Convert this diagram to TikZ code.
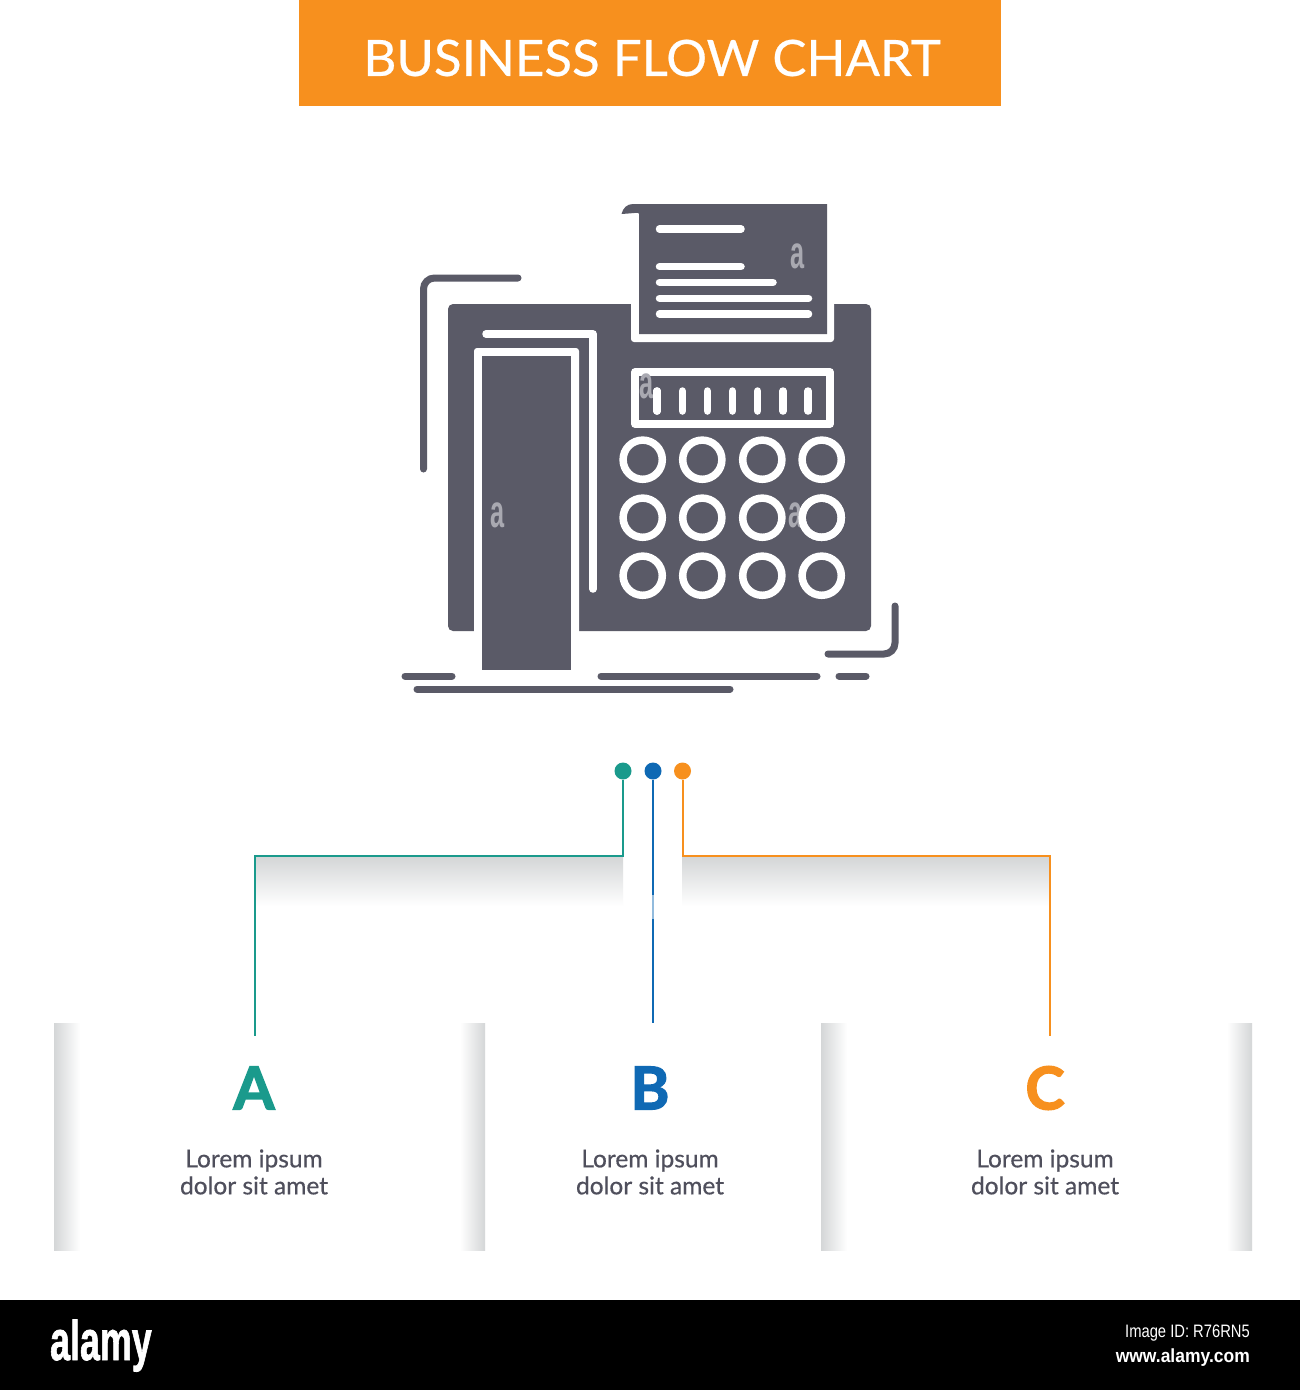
\documentclass[tikz,border=0pt]{standalone}
\usepackage{fontspec}
\setmainfont{Lato}
\newfontfamily\logofont{Liberation Sans}
\newfontfamily\logoheavy[BoldFeatures={FakeBold=1.5}]{Liberation Sans}
\newfontfamily\heavyfont[BoldFeatures={FakeBold=2.5}]{Lato}
\newfontfamily\midfont[FakeBold=0.5]{Lato}
\definecolor{bannerorange}{HTML}{F7901E}
\definecolor{iconslate}{HTML}{5A5A67}
\definecolor{textslate}{HTML}{4F4F5C}
\definecolor{tealc}{HTML}{1A9A8C}
\definecolor{bluec}{HTML}{0F69B4}
\definecolor{shadegrey}{HTML}{D4D6D7}
\definecolor{markgrey}{HTML}{A9A9B1}
\tikzset{
  x=1pt,y=-1pt,
  iconline/.style={draw=iconslate,line width=7pt,line cap=round,rounded corners=11pt},
  whiteline/.style={draw=white,line width=7.5pt,line cap=round,line join=round},
  wire/.style={line width=2pt,line cap=butt,line join=miter},
  dotnode/.style={circle,inner sep=0pt,minimum size=17pt},
  letternode/.style={font=\heavyfont\bfseries\fontsize{59}{60}\selectfont,inner sep=0pt},
  bodytext/.style={font=\midfont\fontsize{24.5}{27}\selectfont,text=textslate,align=center,inner sep=0pt},
  markfont/.style={font=\logofont\bfseries\fontsize{46}{48}\selectfont,text=markgrey,xscale=0.55,inner sep=0pt},
}
\begin{document}
\begin{tikzpicture}
\useasboundingbox (0,0) rectangle (1300,1390);
\fill[white] (0,0) rectangle (1300,1390);
% banner
\fill[bannerorange] (299,0) rectangle (1001,106);
\node[inner sep=0pt,text=white,font=\midfont\fontsize{50}{52}\selectfont,xscale=1.02] (title) at (652,58) {BUSINESS FLOW CHART};
% fax body
\fill[iconslate,rounded corners=5pt] (448,304) rectangle (871,631);
\fill[white,rounded corners=3pt] (631,290) rectangle (834,342);
\fill[white] (625,290) rectangle (840,304);
% paper
\fill[iconslate] (639,334) -- (639,214) .. controls (639,212) and (637,213) .. (621.5,214) .. controls (623,208) and (627,204) .. (633,204) -- (827,204) -- (827,334) -- cycle;
\foreach \yy/\xe in {229/741,266.7/741,282.3/773,298.3/808.5,314/808.5}
  \draw[whiteline] (659.5,\yy) -- (\xe,\yy);
% handset
\fill[white,rounded corners=3pt] (474,348) rectangle (579,650);
\fill[iconslate] (481.7,355.7) rectangle (571.3,670);
\draw[whiteline] (486,334) -- (593,334) -- (593,589);
% display
\draw[draw=white,line width=7.5pt,line join=round] (635,372) rectangle (830,424);
\foreach \xx in {657,682.3,707.3,732.3,757.7,783,808}
  \draw[whiteline] (\xx,391) -- (\xx,411);
% keypad
\foreach \xx in {642.7,702.3,762.3,821.7}
  \foreach \yy in {459.7,517.7,575.7}
    \draw[white,line width=7.5pt] (\xx,\yy) circle[radius=19.6pt];
% loose strokes
\draw[iconline] (423.5,469) -- (423.5,278) -- (518,278);
\draw[iconline] (895,606) -- (895,654) -- (828,654);
\draw[iconline] (405,676) -- (452,676);
\draw[iconline] (601,676) -- (817,676);
\draw[iconline] (839,676) -- (866,676);
\draw[iconline] (417,689) -- (730,689);
% faint marks on the icon
\node[markfont] (m1) at (798,256) {a};
\node[markfont] (m2) at (498,515) {a};
\node[markfont] (m3) at (647,386) {a};
\node[markfont] (m4) at (796,515) {a};
\draw[white,line width=7.5pt] (821.7,517.7) circle[radius=19.6pt];
\draw[whiteline] (657,391) -- (657,411);
% gradient below the connectors
\shade[top color=shadegrey,bottom color=white] (256,857) rectangle (623,906);
\shade[top color=shadegrey,bottom color=white] (682,857) rectangle (1049,906);
% panel edges
\shade[left color=shadegrey,right color=white] (54,1023) rectangle (80,1250);
\shade[left color=white,right color=shadegrey] (460,1023) rectangle (485,1250);
\shade[left color=shadegrey,right color=white] (821,1023) rectangle (847,1250);
\shade[left color=white,right color=shadegrey] (1227,1023) rectangle (1252,1250);
% nodes of the chart
\node[dotnode,fill=tealc] (da) at (623,771) {};
\node[dotnode,fill=bluec] (db) at (653,771) {};
\node[dotnode,fill=bannerorange] (dc) at (682.5,771) {};
\coordinate (ea) at (255,1036);
\coordinate (eb) at (653,1023);
\coordinate (ec) at (1050,1036);
\draw[wire,tealc] (da) -- (623,856) -- (255,856) -- (ea);
\draw[wire,bluec] (db) -- (eb);
\draw[wire,bannerorange] (dc) -- (682.5,856) -- (1050,856) -- (ec);
\draw[line width=2.2pt,white,opacity=0.55] (653,895) -- (653,919);
\node[letternode,text=tealc] (la) at (254,1088) {A};
\node[letternode,text=bluec] (lb) at (650,1088) {B};
\node[letternode,text=bannerorange] (lc) at (1045,1088) {C};
\node[bodytext] (ta) at (254,1172) {Lorem ipsum\\dolor sit amet};
\node[bodytext] (tb) at (650,1172) {Lorem ipsum\\dolor sit amet};
\node[bodytext] (tc) at (1045,1172) {Lorem ipsum\\dolor sit amet};
% footer
\fill[black] (0,1300) rectangle (1300,1390);
\node[inner sep=0pt,text=white,font=\logoheavy\bfseries\fontsize{56}{58}\selectfont,xscale=0.64,anchor=base west] (logo) at (50,1360) {alamy};
\node[inner sep=0pt,text=white,font=\logofont\fontsize{18}{20}\selectfont,xscale=0.82,anchor=base east] (imgid) at (1250,1337) {Image ID: R76RN5};
\node[inner sep=0pt,text=white,font=\logofont\bfseries\fontsize{19}{21}\selectfont,xscale=0.92,anchor=base east] (www) at (1250,1362) {www.alamy.com};
\end{tikzpicture}
\end{document}
